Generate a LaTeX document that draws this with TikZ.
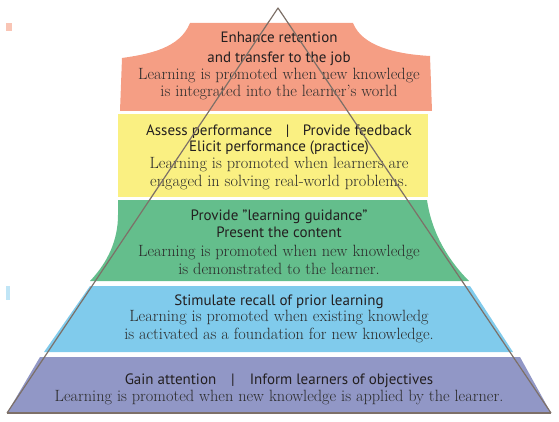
\documentclass[tikz,border=0pt]{standalone}
\usepackage{fontspec}
\setsansfont{PT Sans}
\usepackage{tikz}

\definecolor{bandorange}{HTML}{F59E84}
\definecolor{bandyellow}{HTML}{FAF082}
\definecolor{bandgreen}{HTML}{64BE8C}
\definecolor{bandblue}{HTML}{80CBEC}
\definecolor{bandpurple}{HTML}{9197C6}
\definecolor{edgegray}{HTML}{7D7068}
\definecolor{headink}{HTML}{231F20}
\definecolor{bodyink}{HTML}{2C2C2C}

\begin{document}
\begin{tikzpicture}[x=1pt,y=-1pt,
    head/.style={font=\sffamily\fontsize{15}{18}\selectfont, text=headink, inner sep=0pt, text height=11pt, text depth=3pt},
    body/.style={font=\fontsize{16.3}{18}\selectfont, text=bodyink, inner sep=0pt, text height=11pt, text depth=3pt}]
    \useasboundingbox (0,0) rectangle (559,422);
    % bands
    \fill[bandorange] (120,111) -- (122,58) .. controls (150,54) and (180,48) .. (190,23) -- (353,23) .. controls (362,46) and (395,54) .. (430,56) -- (432,111) -- cycle;
    \fill[bandorange!60] (6,23) rectangle (12,31);
    \fill[bandyellow] (118,114) rectangle (428,197);
    \fill[bandgreen] (118,200) -- (427,200) .. controls (432,235) and (450,262) .. (469,281) -- (90,281) .. controls (108,262) and (118,240) .. (118,215) -- cycle;
    \fill[bandblue] (90,286) -- (470,286) -- (513,352) -- (44,352) -- cycle;
    \fill[bandblue!50] (6,286) rectangle (10,300);
    \fill[bandpurple] (40,357) -- (520,357) -- (551,413) -- (7,413) -- cycle;
    % enhance
    \node (enhA) at (279,39) [head] {Enhance retention};
    \node (enhB) at (279,59) [head] {and transfer to the job};
    \node (enhC) at (279,76) [body] {Learning is promoted when new knowledge};
    \node (enhD) at (279,93) [body] {is integrated into the learner’s world};
    % practice
    \node (praA) at (279,132) [head] {Assess performance\hspace{0.9em}|\hspace{0.9em}Provide feedback};
    \node (praB) at (279,148) [head] {Elicit performance (practice)};
    \node (praC) at (279,165) [body] {Learning is promoted when learners are};
    \node (praD) at (279,182) [body] {engaged in solving real-world problems.};
    % guidance
    \node (guiA) at (279,216) [head] {Provide "learning guidance"};
    \node (guiB) at (279,233) [head] {Present the content};
    \node (guiC) at (279,252) [body] {Learning is promoted when new knowledge};
    \node (guiD) at (279,270) [body] {is demonstrated to the learner.};
    % recall
    \node (recA) at (279,301) [head] {Stimulate recall of prior learning};
    \node (recB) at (279,317) [body] {Learning is promoted when existing knowledg};
    \node (recC) at (279,335) [body] {is activated as a foundation for new knowledge.};
    % attention
    \node (attA) at (279,380) [head] {Gain attention\hspace{1em}|\hspace{1em}Inform learners of objectives};
    \node (attB) at (279,397) [body] {Learning is promoted when new knowledge is applied by the learner.};
    % pyramid outline
    \draw[edgegray, line width=1.2pt, line join=round] (7,413) -- (278,8) -- (551,413);
    \draw[edgegray, line width=2pt] (7,413) -- (551,413);
\end{tikzpicture}
\end{document}
